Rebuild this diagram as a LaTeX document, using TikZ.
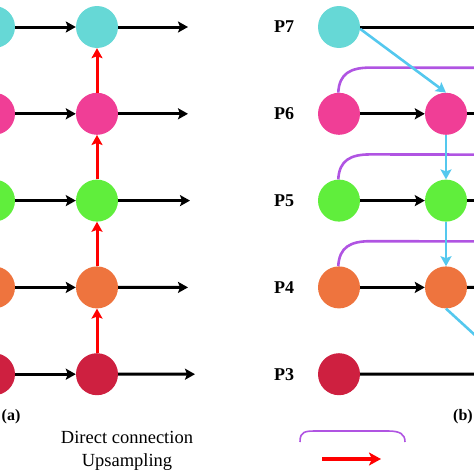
\documentclass[tikz,border=0pt]{standalone}
\usepackage{fontspec}
\setmainfont{Liberation Serif}
\usetikzlibrary{arrows.meta,positioning}
\definecolor{cyanlv}{RGB}{102,216,214}
\definecolor{pinklv}{RGB}{240,62,150}
\definecolor{greenlv}{RGB}{96,238,60}
\definecolor{orangelv}{RGB}{238,116,62}
\definecolor{redlv}{RGB}{206,32,64}
\definecolor{upline}{RGB}{84,200,238}
\definecolor{dcline}{RGB}{176,84,226}

\begin{document}
\begin{tikzpicture}[x=1pt, y=-1pt, node distance={86.8pt},
  main/.style = {circle, minimum size=42pt, inner sep=0pt},
  lvl/.style = {font=\bfseries\fontsize{18}{20}\selectfont},
  tag/.style = {font=\bfseries\fontsize{16}{18}\selectfont},
  txt/.style = {font=\fontsize{18.5}{20}\selectfont},
  fw/.style = {draw, line width=3pt, -{Stealth[length=10pt,width=11pt,inset=2pt]}},
  plain/.style = {draw, line width=3pt},
  upr/.style = {draw=red, line width=3pt, -{Stealth[length=10pt,width=11pt,inset=2pt]}},
  upc/.style = {draw=upline, line width=2.6pt, -{Stealth[length=10pt,width=11pt,inset=2pt]}},
  dc/.style = {draw=dcline, line width=2.6pt}]
  \useasboundingbox (0,0) rectangle (474,474);
  \clip (0,0) rectangle (474,474);
  % (a)
  \node[main, fill=cyanlv] (a7) at (-6,27) {};
  \node[main, fill=pinklv] (a6) [below of=a7] {};
  \node[main, fill=greenlv] (a5) [below of=a6] {};
  \node[main, fill=orangelv] (a4) [below of=a5] {};
  \node[main, fill=redlv] (a3) [below of=a4] {};
  \node[main, fill=cyanlv] (b7) at (97,27) {};
  \node[main, fill=pinklv] (b6) [below of=b7] {};
  \node[main, fill=greenlv] (b5) [below of=b6] {};
  \node[main, fill=orangelv] (b4) [below of=b5] {};
  \node[main, fill=redlv] (b3) [below of=b4] {};
  \coordinate (e7) at (188,27);
  \coordinate (e6) at (188,113.8);
  \coordinate (e5) at (190,200.6);
  \coordinate (e4) at (188,287.4);
  \coordinate (e3) at (195,374.2);
  \draw[fw] (a7) -- (b7);
  \draw[fw] (a6) -- (b6);
  \draw[fw] (a5) -- (b5);
  \draw[fw] (a4) -- (b4);
  \draw[fw] (a3) -- (b3);
  \draw[fw] (b7) -- (e7);
  \draw[fw] (b6) -- (e6);
  \draw[fw] (b5) -- (e5);
  \draw[fw] (b4) -- (e4);
  \draw[fw] (b3) -- (e3);
  \draw[upr] (b3.north) -- (b4.south);
  \draw[upr] (b4.north) -- (b5.south);
  \draw[upr] (b5.north) -- (b6.south);
  \draw[upr] (b6.north) -- (b7.south);
  \node[tag] (ta) at (11,417) {(a)};
  % (b)
  \node[lvl] (p7) at (284,27) {P7};
  \node[lvl] (p6) [below of=p7] {P6};
  \node[lvl] (p5) [below of=p6] {P5};
  \node[lvl] (p4) [below of=p5] {P4};
  \node[lvl] (p3) [below of=p4] {P3};
  \node[main, fill=cyanlv] (c7) at (339,27) {};
  \node[main, fill=pinklv] (c6) [below of=c7] {};
  \node[main, fill=greenlv] (c5) [below of=c6] {};
  \node[main, fill=orangelv] (c4) [below of=c5] {};
  \node[main, fill=redlv] (c3) [below of=c4] {};
  \node[main, fill=pinklv] (d6) at (446,113.8) {};
  \node[main, fill=greenlv] (d5) [below of=d6] {};
  \node[main, fill=orangelv] (d4) [below of=d5] {};
  \coordinate (f7) at (480,27);
  \coordinate (f6) at (480,113.8);
  \coordinate (f5) at (480,200.6);
  \coordinate (f4) at (480,287.4);
  \coordinate (f3) at (480,374.2);
  \coordinate (g6) at (480,67.8);
  \coordinate (g5) at (480,154.6);
  \coordinate (g4) at (480,241.4);
  \coordinate (h4) at (500,358);
  \draw[plain] (c7) -- (f7);
  \draw[plain] (c3) -- (f3);
  \draw[fw] (c6) -- (d6);
  \draw[fw] (c5) -- (d5);
  \draw[fw] (c4) -- (d4);
  \draw[plain] (d6) -- (f6);
  \draw[plain] (d5) -- (f5);
  \draw[plain] (d4) -- (f4);
  \draw[dc] (c6.92) .. controls +(1,-19) and +(-20,0) .. ++(32,-25) -- (g6);
  \draw[dc] (c5.92) .. controls +(1,-19) and +(-20,0) .. ++(32,-25) -- (g5);
  \draw[dc] (c4.92) .. controls +(1,-19) and +(-20,0) .. ++(32,-25) -- (g4);
  \draw[upc] (c7.-5) -- (d6.north);
  \draw[upc] (d6.south) -- (d5.north);
  \draw[upc] (d5.south) -- (d4.north);
  \draw[draw=upline, line width=2.6pt] (d4.south) -- (h4);
  \node[tag] (tb) at (463,417) {(b)};
  % legend
  \node[txt] (tdc) at (127,437) {Direct connection};
  \node[txt] (tup) at (127,462) {Upsampling};
  \coordinate (l1) at (300,442);
  \coordinate (l2) at (405,442);
  \coordinate (r1) at (322,459);
  \coordinate (r2) at (381,459);
  \draw[draw=dcline, line width=1.6pt] (l1) .. controls (300,431) and (305,431) .. (318,431) -- (388,431) .. controls (400,431) and (405,434) .. (l2);
  \draw[draw=red, line width=4pt, -{Stealth[length=12pt,width=13pt,inset=3pt]}] (r1) -- (r2);
\end{tikzpicture}
\end{document}
